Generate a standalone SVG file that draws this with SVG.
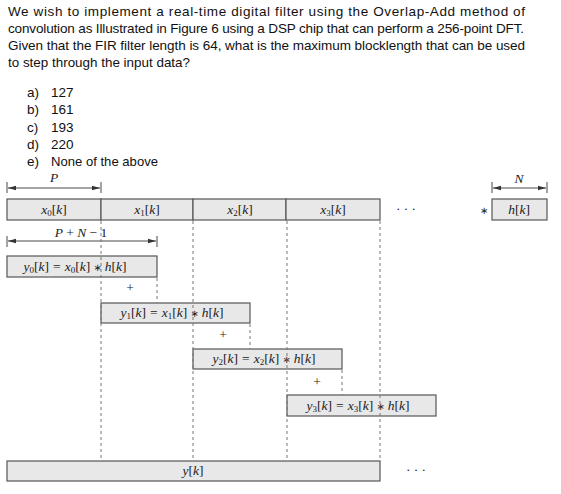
<svg xmlns="http://www.w3.org/2000/svg" width="561" height="494" viewBox="0 0 561 494">
<style>
.q{font-family:"Liberation Sans",Arial,sans-serif;font-size:13.5px;fill:#111}
.m{font-family:"Liberation Serif","Times New Roman",serif;font-style:italic;font-size:13.5px;fill:#222;text-anchor:middle}
.r{font-style:normal}
.s{font-size:9px}
.st{font-family:"DejaVu Sans",sans-serif;font-style:normal;font-size:10px}
.box{fill:#e8e8e8;stroke:#555;stroke-width:1.2}
.dash{stroke:#777;stroke-width:1;stroke-dasharray:3 3;fill:none}
.dim{stroke:#333;stroke-width:0.9;fill:none}
</style>
<defs>
<marker id="ah" markerWidth="8" markerHeight="6" refX="8" refY="3" orient="auto-start-reverse" markerUnits="userSpaceOnUse">
<path d="M0,0.8 L8,3 L0,5.2 Z" fill="#333"/>
</marker>
</defs>
<rect width="561" height="494" fill="#fff"/>
<g id="question">
<text class="q" x="8" y="16" textLength="517" lengthAdjust="spacing">We wish to implement a real-time digital filter using the Overlap-Add method of</text>
<text class="q" x="8" y="33" textLength="516" lengthAdjust="spacing">convolution as Illustrated in Figure 6 using a DSP chip that can perform a 256-point DFT.</text>
<text class="q" x="8" y="50" textLength="517" lengthAdjust="spacing">Given that the FIR filter length is 64, what is the maximum blocklength that can be used</text>
<text class="q" x="8" y="67" textLength="182" lengthAdjust="spacingAndGlyphs">to step through the input data?</text>
<text class="q" x="27" y="97">a)</text><text class="q" x="51" y="97">127</text>
<text class="q" x="27" y="114">b)</text><text class="q" x="51" y="114">161</text>
<text class="q" x="27" y="132">c)</text><text class="q" x="51" y="132">193</text>
<text class="q" x="27" y="149">d)</text><text class="q" x="51" y="149">220</text>
<text class="q" x="27" y="166">e)</text><text class="q" x="51" y="166" textLength="107" lengthAdjust="spacingAndGlyphs">None of the above</text>
</g>
<g id="dims">
<line class="dim" x1="7" y1="182" x2="7" y2="193"/>
<line class="dim" x1="101" y1="182" x2="101" y2="193"/>
<line class="dim" x1="8" y1="188" x2="100" y2="188" marker-start="url(#ah)" marker-end="url(#ah)"/>
<text class="m" x="54" y="182">P</text>
<line class="dim" x1="7" y1="236" x2="7" y2="247"/>
<line class="dim" x1="157" y1="236" x2="157" y2="247"/>
<line class="dim" x1="8" y1="241" x2="156" y2="241" marker-start="url(#ah)" marker-end="url(#ah)"/>
<text class="m" x="81" y="237">P <tspan class="r">+</tspan> N <tspan class="r">− </tspan><tspan class="r">1</tspan></text>
<line class="dim" x1="492" y1="182" x2="492" y2="193"/>
<line class="dim" x1="547" y1="182" x2="547" y2="193"/>
<line class="dim" x1="493" y1="188" x2="546" y2="188" marker-start="url(#ah)" marker-end="url(#ah)"/>
<text class="m" x="519" y="183">N</text>
</g>
<g id="x0"><rect class="box" x="7" y="199" width="94" height="21"/><text class="m" x="54" y="214">x<tspan class="s r" dy="2">0</tspan><tspan class="r" dy="-2">[</tspan>k<tspan class="r">]</tspan></text></g>
<g id="x1"><rect class="box" x="101" y="199" width="92" height="21"/><text class="m" x="147" y="214">x<tspan class="s r" dy="2">1</tspan><tspan class="r" dy="-2">[</tspan>k<tspan class="r">]</tspan></text></g>
<g id="x2"><rect class="box" x="193" y="199" width="93" height="21"/><text class="m" x="240" y="214">x<tspan class="s r" dy="2">2</tspan><tspan class="r" dy="-2">[</tspan>k<tspan class="r">]</tspan></text></g>
<g id="x3"><rect class="box" x="286" y="199" width="94" height="21"/><text class="m" x="333" y="214">x<tspan class="s r" dy="2">3</tspan><tspan class="r" dy="-2">[</tspan>k<tspan class="r">]</tspan></text></g>
<g id="dots1"><text class="m r" x="406" y="213">· · ·</text></g>
<g id="star"><text class="m st" x="484" y="214">∗</text></g>
<g id="h"><rect class="box" x="492" y="199" width="55" height="21"/><text class="m" x="519" y="214">h<tspan class="r">[</tspan>k<tspan class="r">]</tspan></text></g>
<g id="y0"><rect class="box" x="7" y="256" width="150" height="21"/><text class="m" x="75" y="271">y<tspan class="s r" dy="2">0</tspan><tspan class="r" dy="-2">[</tspan>k<tspan class="r">]</tspan><tspan class="r" dx="4">=</tspan><tspan dx="4">x</tspan><tspan class="s r" dy="2">0</tspan><tspan class="r" dy="-2">[</tspan>k<tspan class="r">]</tspan><tspan class="st" dx="3">∗</tspan><tspan dx="3">h</tspan><tspan class="r">[</tspan>k<tspan class="r">]</tspan></text></g>
<g id="y1"><rect class="box" x="101" y="303" width="149" height="20"/><text class="m" x="172" y="317">y<tspan class="s r" dy="2">1</tspan><tspan class="r" dy="-2">[</tspan>k<tspan class="r">]</tspan><tspan class="r" dx="4">=</tspan><tspan dx="4">x</tspan><tspan class="s r" dy="2">1</tspan><tspan class="r" dy="-2">[</tspan>k<tspan class="r">]</tspan><tspan class="st" dx="3">∗</tspan><tspan dx="3">h</tspan><tspan class="r">[</tspan>k<tspan class="r">]</tspan></text></g>
<g id="y2"><rect class="box" x="193" y="349" width="149" height="20"/><text class="m" x="264" y="363">y<tspan class="s r" dy="2">2</tspan><tspan class="r" dy="-2">[</tspan>k<tspan class="r">]</tspan><tspan class="r" dx="4">=</tspan><tspan dx="4">x</tspan><tspan class="s r" dy="2">2</tspan><tspan class="r" dy="-2">[</tspan>k<tspan class="r">]</tspan><tspan class="st" dx="3">∗</tspan><tspan dx="3">h</tspan><tspan class="r">[</tspan>k<tspan class="r">]</tspan></text></g>
<g id="y3"><rect class="box" x="287" y="395" width="149" height="21"/><text class="m" x="358" y="410">y<tspan class="s r" dy="2">3</tspan><tspan class="r" dy="-2">[</tspan>k<tspan class="r">]</tspan><tspan class="r" dx="4">=</tspan><tspan dx="4">x</tspan><tspan class="s r" dy="2">3</tspan><tspan class="r" dy="-2">[</tspan>k<tspan class="r">]</tspan><tspan class="st" dx="3">∗</tspan><tspan dx="3">h</tspan><tspan class="r">[</tspan>k<tspan class="r">]</tspan></text></g>
<g id="y"><rect class="box" x="7" y="461" width="373" height="20"/><text class="m" x="193" y="475">y<tspan class="r">[</tspan>k<tspan class="r">]</tspan></text></g>
<g id="dots2"><text class="m r" x="416" y="474">· · ·</text></g>
<g id="connectors">
<line class="dash" x1="101" y1="221" x2="101" y2="461"/>
<line class="dash" x1="193" y1="221" x2="193" y2="461"/>
<line class="dash" x1="287" y1="221" x2="287" y2="461"/>
<line class="dash" x1="380" y1="221" x2="380" y2="461"/>
<line class="dash" x1="157" y1="278" x2="157" y2="303"/>
<line class="dash" x1="250" y1="324" x2="250" y2="349"/>
<line class="dash" x1="342" y1="370" x2="342" y2="395"/>
<text class="m r" x="130" y="292">+</text>
<text class="m r" x="223" y="339">+</text>
<text class="m r" x="317" y="386">+</text>
</g>
</svg>
